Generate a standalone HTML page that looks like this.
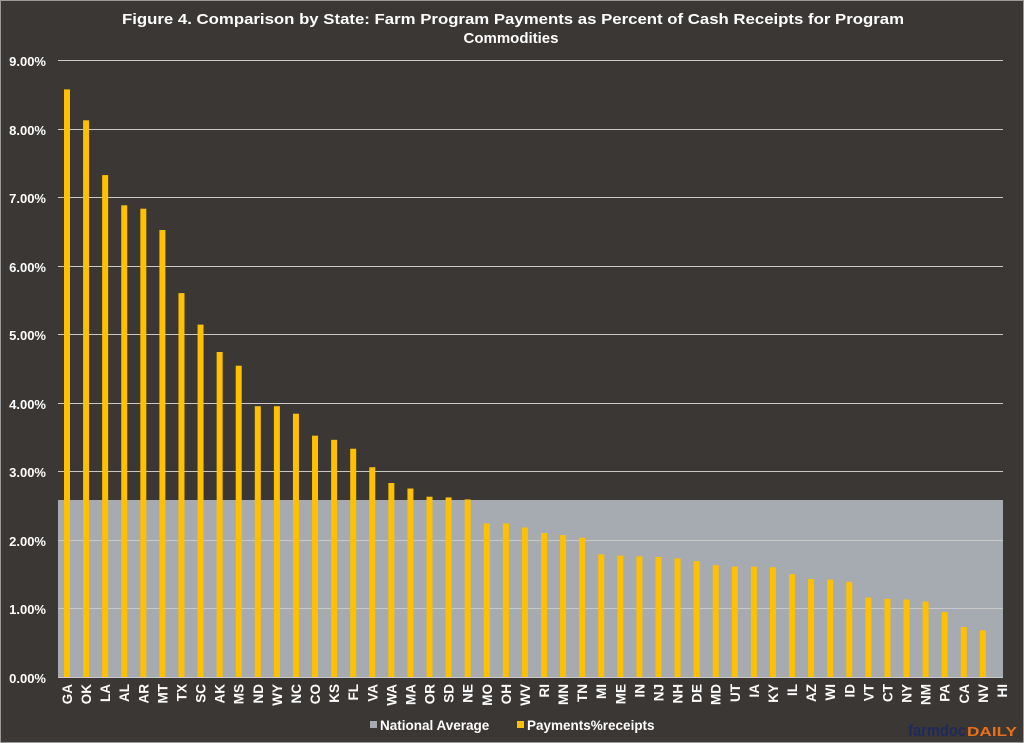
<!DOCTYPE html>
<html><head><meta charset="utf-8"><style>
html,body{margin:0;padding:0;background:#3a3735;}
svg{display:block;font-family:"Liberation Sans",Arial,sans-serif;font-weight:bold;}
</style></head><body>
<svg width="1024" height="743" viewBox="0 0 1024 743" xmlns="http://www.w3.org/2000/svg">
<rect x="0.5" y="0.5" width="1023" height="742" fill="#3a3735" stroke="#9a9a9a"/>
<text x="513" y="24" fill="#ffffff" font-size="15" text-anchor="middle" textLength="782" lengthAdjust="spacingAndGlyphs">Figure 4. Comparison by State: Farm Program Payments as Percent of Cash Receipts for Program</text>
<text x="511" y="43" fill="#ffffff" font-size="15" text-anchor="middle">Commodities</text>
<rect x="58" y="500" width="945" height="177" fill="#a6aab1"/>
<g stroke="#c9c9c9" stroke-width="1">
<line x1="58" x2="1003" y1="60.5" y2="60.5"/>
<line x1="58" x2="1003" y1="129.5" y2="129.5"/>
<line x1="58" x2="1003" y1="197.5" y2="197.5"/>
<line x1="58" x2="1003" y1="266.5" y2="266.5"/>
<line x1="58" x2="1003" y1="334.5" y2="334.5"/>
<line x1="58" x2="1003" y1="403.5" y2="403.5"/>
<line x1="58" x2="1003" y1="471.5" y2="471.5"/>
<line x1="58" x2="1003" y1="540.5" y2="540.5"/>
<line x1="58" x2="1003" y1="608.5" y2="608.5"/>
<line x1="58" x2="1003" y1="677.5" y2="677.5"/>
</g>
<g fill="#ffffff" font-size="13" text-anchor="end">
<text x="46" y="66">9.00%</text>
<text x="46" y="135">8.00%</text>
<text x="46" y="203">7.00%</text>
<text x="46" y="272">6.00%</text>
<text x="46" y="340">5.00%</text>
<text x="46" y="409">4.00%</text>
<text x="46" y="477">3.00%</text>
<text x="46" y="546">2.00%</text>
<text x="46" y="614">1.00%</text>
<text x="46" y="683">0.00%</text>
</g>
<g fill="#ffc000">
<rect x="64" y="89.4" width="6" height="587.6"/>
<rect x="83.08" y="120.3" width="6" height="556.7"/>
<rect x="102.16" y="175.1" width="6" height="501.9"/>
<rect x="121.24" y="205.3" width="6" height="471.7"/>
<rect x="140.32" y="208.7" width="6" height="468.3"/>
<rect x="159.4" y="230" width="6" height="447"/>
<rect x="178.48" y="293.1" width="6" height="383.9"/>
<rect x="197.56" y="324.6" width="6" height="352.4"/>
<rect x="216.64" y="352" width="6" height="325"/>
<rect x="235.72" y="365.7" width="6" height="311.3"/>
<rect x="254.8" y="406.2" width="6" height="270.8"/>
<rect x="273.88" y="406.2" width="6" height="270.8"/>
<rect x="292.96" y="413.7" width="6" height="263.3"/>
<rect x="312.04" y="435.7" width="6" height="241.3"/>
<rect x="331.12" y="439.8" width="6" height="237.2"/>
<rect x="350.2" y="448.7" width="6" height="228.3"/>
<rect x="369.28" y="467.2" width="6" height="209.8"/>
<rect x="388.36" y="483" width="6" height="194"/>
<rect x="407.44" y="488.5" width="6" height="188.5"/>
<rect x="426.52" y="496.7" width="6" height="180.3"/>
<rect x="445.6" y="497.4" width="6" height="179.6"/>
<rect x="464.68" y="499.4" width="6" height="177.6"/>
<rect x="483.76" y="523.4" width="6" height="153.6"/>
<rect x="502.84" y="523.4" width="6" height="153.6"/>
<rect x="521.92" y="527.5" width="6" height="149.5"/>
<rect x="541" y="533" width="6" height="144"/>
<rect x="560.08" y="535.1" width="6" height="141.9"/>
<rect x="579.16" y="537.8" width="6" height="139.2"/>
<rect x="598.24" y="554.3" width="6" height="122.7"/>
<rect x="617.32" y="555.6" width="6" height="121.4"/>
<rect x="636.4" y="556.3" width="6" height="120.7"/>
<rect x="655.48" y="557" width="6" height="120"/>
<rect x="674.56" y="558.4" width="6" height="118.6"/>
<rect x="693.64" y="561.1" width="6" height="115.9"/>
<rect x="712.72" y="565.2" width="6" height="111.8"/>
<rect x="731.8" y="566.6" width="6" height="110.4"/>
<rect x="750.88" y="566.6" width="6" height="110.4"/>
<rect x="769.96" y="567.3" width="6" height="109.7"/>
<rect x="789.04" y="574.2" width="6" height="102.8"/>
<rect x="808.12" y="579" width="6" height="98"/>
<rect x="827.2" y="579.6" width="6" height="97.4"/>
<rect x="846.28" y="581.7" width="6" height="95.3"/>
<rect x="865.36" y="597.5" width="6" height="79.5"/>
<rect x="884.44" y="598.8" width="6" height="78.2"/>
<rect x="903.52" y="599.5" width="6" height="77.5"/>
<rect x="922.6" y="601.6" width="6" height="75.4"/>
<rect x="941.68" y="611.9" width="6" height="65.1"/>
<rect x="960.76" y="627" width="6" height="50"/>
<rect x="979.84" y="630.4" width="6" height="46.6"/>
</g>
<g fill="#ffffff" font-size="13.5" text-anchor="end">
<text transform="translate(72,684) rotate(-90)">GA</text>
<text transform="translate(91.08,684) rotate(-90)">OK</text>
<text transform="translate(110.16,684) rotate(-90)">LA</text>
<text transform="translate(129.24,684) rotate(-90)">AL</text>
<text transform="translate(148.32,684) rotate(-90)">AR</text>
<text transform="translate(167.4,684) rotate(-90)">MT</text>
<text transform="translate(186.48,684) rotate(-90)">TX</text>
<text transform="translate(205.56,684) rotate(-90)">SC</text>
<text transform="translate(224.64,684) rotate(-90)">AK</text>
<text transform="translate(243.72,684) rotate(-90)">MS</text>
<text transform="translate(262.8,684) rotate(-90)">ND</text>
<text transform="translate(281.88,684) rotate(-90)">WY</text>
<text transform="translate(300.96,684) rotate(-90)">NC</text>
<text transform="translate(320.04,684) rotate(-90)">CO</text>
<text transform="translate(339.12,684) rotate(-90)">KS</text>
<text transform="translate(358.2,684) rotate(-90)">FL</text>
<text transform="translate(377.28,684) rotate(-90)">VA</text>
<text transform="translate(396.36,684) rotate(-90)">WA</text>
<text transform="translate(415.44,684) rotate(-90)">MA</text>
<text transform="translate(434.52,684) rotate(-90)">OR</text>
<text transform="translate(453.6,684) rotate(-90)">SD</text>
<text transform="translate(472.68,684) rotate(-90)">NE</text>
<text transform="translate(491.76,684) rotate(-90)">MO</text>
<text transform="translate(510.84,684) rotate(-90)">OH</text>
<text transform="translate(529.92,684) rotate(-90)">WV</text>
<text transform="translate(549,684) rotate(-90)">RI</text>
<text transform="translate(568.08,684) rotate(-90)">MN</text>
<text transform="translate(587.16,684) rotate(-90)">TN</text>
<text transform="translate(606.24,684) rotate(-90)">MI</text>
<text transform="translate(625.32,684) rotate(-90)">ME</text>
<text transform="translate(644.4,684) rotate(-90)">IN</text>
<text transform="translate(663.48,684) rotate(-90)">NJ</text>
<text transform="translate(682.56,684) rotate(-90)">NH</text>
<text transform="translate(701.64,684) rotate(-90)">DE</text>
<text transform="translate(720.72,684) rotate(-90)">MD</text>
<text transform="translate(739.8,684) rotate(-90)">UT</text>
<text transform="translate(758.88,684) rotate(-90)">IA</text>
<text transform="translate(777.96,684) rotate(-90)">KY</text>
<text transform="translate(797.04,684) rotate(-90)">IL</text>
<text transform="translate(816.12,684) rotate(-90)">AZ</text>
<text transform="translate(835.2,684) rotate(-90)">WI</text>
<text transform="translate(854.28,684) rotate(-90)">ID</text>
<text transform="translate(873.36,684) rotate(-90)">VT</text>
<text transform="translate(892.44,684) rotate(-90)">CT</text>
<text transform="translate(911.52,684) rotate(-90)">NY</text>
<text transform="translate(930.6,684) rotate(-90)">NM</text>
<text transform="translate(949.68,684) rotate(-90)">PA</text>
<text transform="translate(968.76,684) rotate(-90)">CA</text>
<text transform="translate(987.84,684) rotate(-90)">NV</text>
<text transform="translate(1006.92,684) rotate(-90)">HI</text>
</g>
<rect x="370" y="721" width="7" height="7" fill="#a6aab1"/>
<text x="380" y="730" fill="#ffffff" font-size="13.5">National Average</text>
<rect x="517" y="721" width="7" height="7" fill="#ffc000"/>
<text x="527" y="730" fill="#ffffff" font-size="13.5">Payments%receipts</text>
<text x="908" y="736" fill="#1f2a5a" font-size="17" textLength="58" lengthAdjust="spacingAndGlyphs">farmdoc</text>
<text x="967" y="736" fill="#e8701a" font-size="13" textLength="50" lengthAdjust="spacingAndGlyphs">DAILY</text>
</svg>
</body></html>
